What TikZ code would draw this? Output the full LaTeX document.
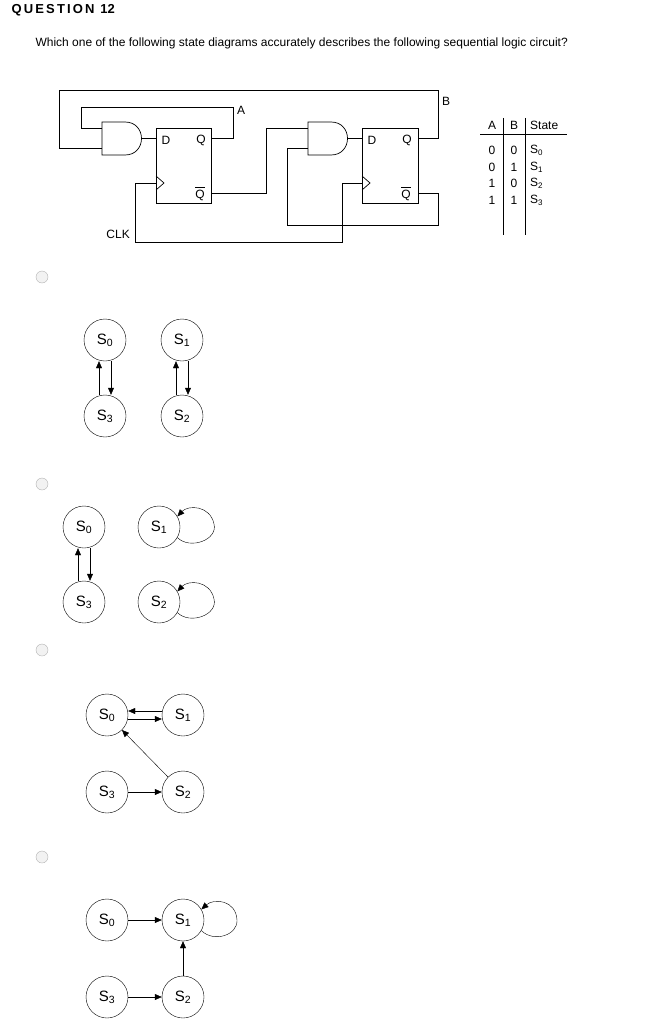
\documentclass[tikz,border=0pt]{standalone}
\usepackage{fontspec}
\setmainfont{Liberation Sans}
\usetikzlibrary{arrows.meta}
\newcommand{\sx}[1]{S\textsubscript{#1}}
\begin{document}
\begin{tikzpicture}[x=1pt,y=-1pt,
  st/.style={circle,draw,minimum size=42pt,inner sep=0pt,font=\fontsize{15}{15}\selectfont},
  ar/.style={-{Triangle[length=7pt,width=6pt]},thin},
  wire/.style={line width=0.7pt},
  radio/.style={circle,draw=gray!60,fill=gray!10,minimum size=12pt,inner sep=0pt},
  lbl/.style={font=\fontsize{12}{12}\selectfont,inner sep=0pt}]
\useasboundingbox (0,0) rectangle (670,1024);
\node[anchor=west,font=\bfseries\fontsize{13}{13}\selectfont] (title) at (8,10) {Q\,U\,E\,S\,T\,I\,O\,N\, 12};
\node[anchor=west,font=\fontsize{12}{12}\selectfont] (q) at (32,43) {Which one of the following state diagrams accurately describes the following sequential logic circuit?};
% circuit
\draw[wire] (102,122) -- (125,122) .. controls (147,122) and (147,155) .. (125,155) -- (102,155) -- cycle;
\draw[wire] (308,122) -- (331,122) .. controls (353,122) and (353,155) .. (331,155) -- (308,155) -- cycle;
\draw[wire] (156,128) rectangle (211,203);
\draw[wire] (362,128) rectangle (418,203);
\draw[wire] (156,176) -- (164,183) -- (156,190);
\draw[wire] (362,176) -- (370,183) -- (362,190);
\node[lbl] (d1) at (166,140) {D}; \node[lbl] (q1) at (201,140) {Q};
\node[lbl] (qb1) at (200,195) {Q};
\node[lbl] (d2) at (372,140) {D}; \node[lbl] (q2) at (407,140) {Q};
\node[lbl] (qb2) at (406,195) {Q};
\draw ([yshift=2.5pt]qb1.north west) -- ([yshift=2.5pt]qb1.north east);
\draw ([yshift=2.5pt]qb2.north west) -- ([yshift=2.5pt]qb2.north east);
\draw[wire] (141.5,138) -- (156,138);
\draw[wire] (347.5,138) -- (362,138);
\draw[wire] (211,138) -- (233,138) -- (233,107) -- (81,107) -- (81,128) -- (102,128);
\draw[wire] (418,138) -- (438,138) -- (438,90) -- (59,90) -- (59,148) -- (102,148);
\draw[wire] (211,193) -- (266,193) -- (266,128) -- (308,128);
\draw[wire] (308,148) -- (287,148) -- (287,225) -- (438,225) -- (438,193) -- (418,193);
\draw[wire] (156,183) -- (135,183) -- (135,242) -- (342,242) -- (342,183) -- (362,183);
\node[lbl,anchor=west] (A) at (237,110) {A};
\node[lbl,anchor=west] (B) at (442,101) {B};
\node[lbl,anchor=east] (clk) at (130,234) {CLK};
% table
\draw (480,134) -- (567,134);
\draw (503,118) -- (503,235); \draw (525,118) -- (525,235);
\foreach \y/\a/\b/\s in {125/A/B/State,150/0/0/\sx{0},167/0/1/\sx{1},183/1/0/\sx{2},200/1/1/\sx{3}}{
  \node[lbl] at (492,\y) {\a}; \node[lbl] at (514,\y) {\b}; \node[lbl,anchor=west] at (530,\y) {\s};}
% radios
\node[radio] (r1) at (42,277) {}; \node[radio] (r2) at (42,484) {};
\node[radio] (r3) at (42,650) {}; \node[radio] (r4) at (42,857) {};
% diagram 1
\node[st] (a0) at (105,340) {\sx{0}}; \node[st] (a1) at (182,340) {\sx{1}};
\node[st] (a3) at (105,416) {\sx{3}}; \node[st] (a2) at (182,416) {\sx{2}};
\draw[ar] ([xshift=-6pt]a3.north) -- ([xshift=-6pt]a0.south);
\draw[ar] ([xshift=6pt]a0.south) -- ([xshift=6pt]a3.north);
\draw[ar] ([xshift=-6pt]a2.north) -- ([xshift=-6pt]a1.south);
\draw[ar] ([xshift=6pt]a1.south) -- ([xshift=6pt]a2.north);
% diagram 2
\node[st] (b0) at (84,527) {\sx{0}}; \node[st] (b1) at (159,527) {\sx{1}};
\node[st] (b3) at (84,602) {\sx{3}}; \node[st] (b2) at (159,602) {\sx{2}};
\draw[ar] ([xshift=-6pt]b3.north) -- ([xshift=-6pt]b0.south);
\draw[ar] ([xshift=6pt]b0.south) -- ([xshift=6pt]b3.north);
\draw[ar] (b1.-30) .. controls (190,550) and (218,540) .. (214,524) .. controls (210,505) and (188,505) .. (b1.30);
\draw[ar] (b2.-30) .. controls (190,625) and (218,615) .. (214,599) .. controls (210,580) and (188,580) .. (b2.30);
% diagram 3
\node[st] (c0) at (107,715) {\sx{0}}; \node[st] (c1) at (183,715) {\sx{1}};
\node[st] (c3) at (107,792) {\sx{3}}; \node[st] (c2) at (183,792) {\sx{2}};
\draw[ar] ([yshift=4pt]c1.west) -- ([yshift=4pt]c0.east);
\draw[ar] ([yshift=-4pt]c0.east) -- ([yshift=-4pt]c1.west);
\draw[ar] (c2.135) -- (c0.-45);
\draw[ar] (c3) -- (c2);
% diagram 4
\node[st] (d0) at (107,920) {\sx{0}}; \node[st] (d1) at (183,920) {\sx{1}};
\node[st] (d3) at (107,997) {\sx{3}}; \node[st] (d2) at (183,997) {\sx{2}};
\draw[ar] (d0) -- (d1);
\draw[ar] (d3) -- (d2);
\draw[ar] (d2) -- (d1);
\draw[ar] (d1.-30) .. controls (214,943) and (238,935) .. (237,920) .. controls (236,900) and (214,898) .. (d1.30);
\end{tikzpicture}
\end{document}
